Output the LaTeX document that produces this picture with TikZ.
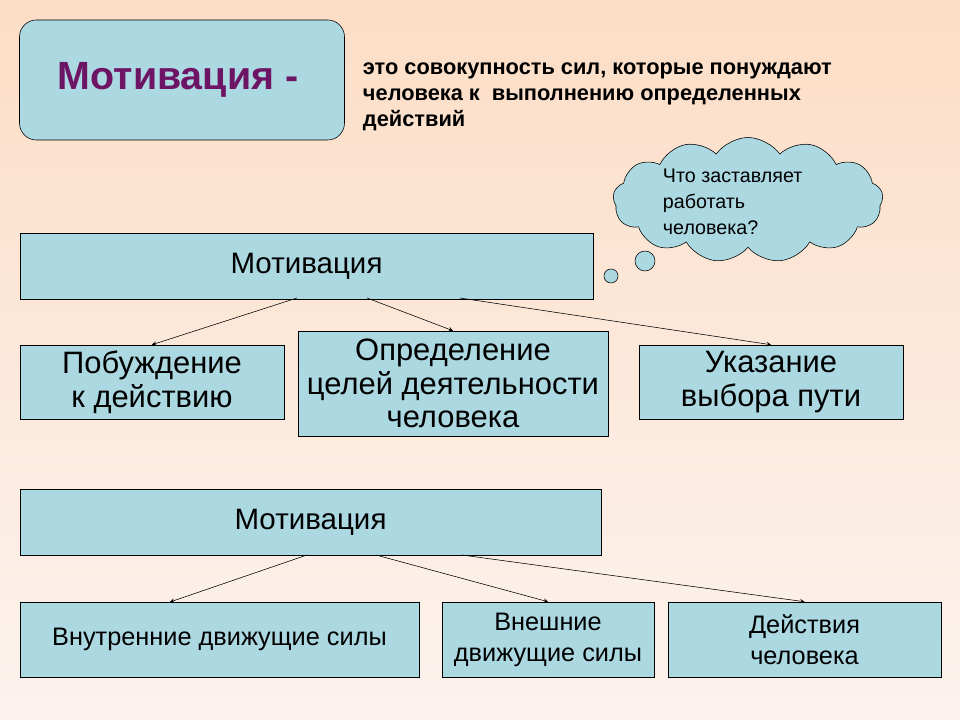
\documentclass[tikz,border=0pt]{standalone}
\usepackage{fontspec}
\setmainfont{Liberation Sans}
\usetikzlibrary{shapes.symbols}
\definecolor{boxblue}{RGB}{172,216,226}
\definecolor{titlepurple}{RGB}{110,20,100}
\definecolor{bgcream}{RGB}{251,238,232}
\begin{document}
\begin{tikzpicture}[x=0.025cm,y=-0.025cm,
  box/.style={draw=black, fill=boxblue, align=center, inner sep=0pt},
  arr/.style={->, >=stealth, thin}]
  % background
  \shade[top color=bgcream!85!orange, bottom color=bgcream!70!white] (0,0) rectangle (960,720);
  \useasboundingbox (0,0) rectangle (960,720);

  % definition
  \node[box, rounded corners=12pt, minimum width=325*0.025cm, minimum height=120*0.025cm] (title) at (182,80) {};
  \node[font=\fontsize{28}{32}\selectfont\bfseries, text=titlepurple] (tt) at (178,80) {Мотивация -};
  \node[anchor=north west, align=left, font=\fontsize{15.5}{18.5}\selectfont\bfseries] (def) at (358,58)
    {это совокупность сил, которые понуждают\\человека к\ \ выполнению определенных\\действий};

  % cloud
  \node[cloud, cloud puffs=13, cloud puff arc=110, aspect=2.3, draw, fill=boxblue,
    minimum width=270*0.025cm, minimum height=125*0.025cm] (cloud) at (748,200) {};
  \node[anchor=west, align=left, font=\fontsize{14}{18.5}\selectfont] (q) at (658,202)
    {Что заставляет\\работать\\человека?};
  \node[circle, draw, fill=boxblue, minimum size=20*0.025cm, inner sep=0pt] (b1) at (645,261) {};
  \node[circle, draw, fill=boxblue, minimum size=14*0.025cm, inner sep=0pt] (b2) at (611,276) {};
  \node[circle, draw, fill=boxblue, minimum size=6*0.025cm, inner sep=0pt] (b3) at (585,288) {};

  % first tree
  \node[box, minimum width=573*0.025cm, minimum height=66*0.025cm, font=\fontsize{21}{24}\selectfont] (mot1) at (306.5,266) {Мотивация};
  \node[box, minimum width=264*0.025cm, minimum height=74*0.025cm, font=\fontsize{22}{24}\selectfont] (push) at (152,382) {Побуждение\\к действию};
  \node[box, minimum width=310*0.025cm, minimum height=105*0.025cm, font=\fontsize{22}{24}\selectfont] (goal) at (453,383.5) {Определение\\целей деятельности\\человека};
  \node[box, minimum width=264*0.025cm, minimum height=74*0.025cm, font=\fontsize{22}{24}\selectfont] (path) at (771,382) {Указание\\выбора пути};
  \coordinate (s1) at (297,298);
  \coordinate (s2) at (367,298);
  \coordinate (s3) at (460,298);
  \draw[arr] (s1) -- (push.north);
  \draw[arr] (s2) -- (goal.north);
  \draw[arr] (s3) -- (path.north);

  % second tree
  \node[box, minimum width=581*0.025cm, minimum height=66*0.025cm, font=\fontsize{21}{24}\selectfont] (mot2) at (310.5,522) {Мотивация};
  \node[box, minimum width=399*0.025cm, minimum height=75*0.025cm, font=\fontsize{18}{22}\selectfont] (inner) at (219.5,639.5) {Внутренние движущие силы};
  \node[box, minimum width=212*0.025cm, minimum height=75*0.025cm, font=\fontsize{18}{22}\selectfont] (outer) at (548,639.5) {Внешние\\движущие силы};
  \node[box, minimum width=273*0.025cm, minimum height=75*0.025cm, font=\fontsize{18}{22}\selectfont] (act) at (804.5,639.5) {Действия\\человека};
  \coordinate (t1) at (307,555);
  \coordinate (t2) at (376,555);
  \coordinate (t3) at (462,555);
  \draw[arr] (t1) -- (170,602);
  \draw[arr] (t2) -- (outer.north);
  \draw[arr] (t3) -- (act.north);
\end{tikzpicture}
\end{document}
